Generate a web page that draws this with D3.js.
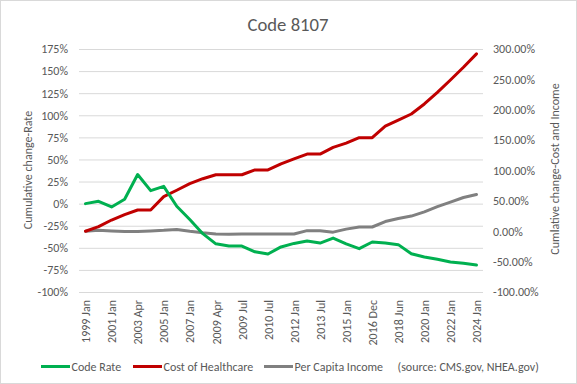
<!DOCTYPE html>
<html>
<head>
<meta charset="utf-8">
<script src="https://cdn.jsdelivr.net/npm/d3@7"></script>
<style>
  html, body { margin: 0; padding: 0; background: #fff; }
  svg { display: block; }
  text { font-family: Carlito, Calibri, "Open Sans", sans-serif; fill: #595959; }
</style>
</head>
<body>
<svg id="chart" width="577" height="384"></svg>
<script>
// ---- data ----
const categories = [
  "1999 Jan","2000 Jan","2001 Jan","2002 Jan","2003 Apr","2004 Jan","2005 Jan","2006 Jan",
  "2007 Jan","2008 Jan","2009 Apr","2009 May","2009 Jul","2010 Jan","2010 Jul","2011 Jan",
  "2012 Jan","2012 Jul","2013 Jul","2014 Jan","2015 Jan","2016 Jan","2016 Dec","2017 Jul",
  "2018 Jun","2019 Jan","2020 Jan","2021 Jan","2022 Jan","2023 Jan","2024 Jan"
];
const codeRate = [0, 2.6, -3.8, 4.9, 33, 14.7, 19.6, -3, -18, -34, -45.5, -48, -48, -54.5, -57,
  -49, -45, -42.3, -44.6, -39, -45.6, -51, -43.4, -44.6, -46.4, -56.8, -60.4, -63, -66, -67.5, -69.5];
const costHealthcare = [0, 7.5, 18.5, 27.5, 35, 35, 57, 67.5, 78.5, 86.5, 93, 93, 93, 101, 101,
  111, 119, 127, 127, 138, 145, 154, 154, 173, 183, 193, 209.5, 228.5, 249, 270, 292];
const perCapitaIncome = [0, 1.5, 0.5, -0.5, -0.5, 0.5, 1.5, 3, 0, -2.5, -4.5, -5, -4.5, -4.5, -4.5,
  -4.5, -4.5, 1, 1, -1.5, 3.5, 7, 7, 16, 21, 25, 32, 40.5, 48, 55.5, 60.5];
const leftTicks = [-100, -75, -50, -25, 0, 25, 50, 75, 100, 125, 150, 175];
const rightTicks = [-100, -50, 0, 50, 100, 150, 200, 250, 300];
const seriesNames = ["Code Rate", "Cost of Healthcare", "Per Capita Income"];
const sourceNote = "(source: CMS.gov, NHEA.gov)";

// ---- layout ----
const svg = d3.select("#chart");
const W = 577, H = 384;
const plot = { left: 79, right: 483, top: 49, bottom: 292 };
const colors = { green: "#00B050", red: "#C00000", grey: "#808080" };
const FONT = "Carlito, Calibri, 'Open Sans', sans-serif";

svg.append("rect").attr("x", 0.5).attr("y", 0.5).attr("width", W - 1).attr("height", H - 1)
  .attr("fill", "#fff").attr("stroke", "#D9D9D9");

const x = d3.scalePoint().domain(categories).range([plot.left, plot.right]).padding(0.5);
const yL = d3.scaleLinear().domain([-100, 175]).range([plot.bottom, plot.top]);
const yR = d3.scaleLinear().domain([-100, 300]).range([plot.bottom, plot.top]);

// gridlines
svg.append("g")
  .attr("transform", `translate(${plot.left},0)`)
  .call(d3.axisLeft(yL).tickValues(leftTicks).tickSize(-(plot.right - plot.left)).tickFormat(""))
  .call(g => g.select(".domain").remove())
  .call(g => g.selectAll("line").attr("stroke", "#D9D9D9").attr("stroke-width", 1));

// left axis labels
svg.append("g")
  .attr("transform", `translate(${plot.left - 11},0)`)
  .call(d3.axisLeft(yL).tickValues(leftTicks).tickSize(0).tickPadding(0).tickFormat(d => d + "%"))
  .call(g => g.select(".domain").remove())
  .call(g => g.selectAll("text").attr("font-size", 12).attr("fill", "#595959").style("font-family", FONT));

// right axis labels
svg.append("g")
  .attr("transform", `translate(${plot.right + 10},0)`)
  .call(d3.axisRight(yR).tickValues(rightTicks).tickSize(0).tickPadding(0).tickFormat(d => d.toFixed(2) + "%"))
  .call(g => g.select(".domain").remove())
  .call(g => g.selectAll("text").attr("font-size", 12).attr("fill", "#595959").style("font-family", FONT));

// x axis labels (every second category)
const xAxis = d3.axisBottom(x)
  .tickValues(categories.filter((d, i) => i % 2 === 0))
  .tickSize(0).tickPadding(0);
svg.append("g")
  .attr("transform", `translate(0,${plot.bottom})`)
  .call(xAxis)
  .call(g => g.select(".domain").remove())
  .call(g => g.selectAll("text")
    .attr("font-size", 12).attr("fill", "#595959").style("font-family", FONT)
    .attr("text-anchor", "end")
    .attr("transform", "translate(0,8) rotate(-90)")
    .attr("x", 0).attr("y", 0).attr("dy", "0.35em"));

// lines
const lineL = d3.line().x((d, i) => x(categories[i])).y(d => yL(d));
const lineR = d3.line().x((d, i) => x(categories[i])).y(d => yR(d));
const lineStyle = sel => sel.attr("fill", "none").attr("stroke-width", 3)
  .attr("stroke-linejoin", "round").attr("stroke-linecap", "round");

svg.append("path").datum(perCapitaIncome).attr("d", lineR).call(lineStyle).attr("stroke", colors.grey);
svg.append("path").datum(costHealthcare).attr("d", lineR).call(lineStyle).attr("stroke", colors.red);
svg.append("path").datum(codeRate).attr("d", lineL).call(lineStyle).attr("stroke", colors.green);

// title
svg.append("text").attr("x", 288).attr("y", 31).attr("text-anchor", "middle")
  .attr("font-size", 18.7).text("Code 8107");

// axis titles
svg.append("text").attr("transform", `translate(28,170) rotate(-90)`)
  .attr("text-anchor", "middle").attr("dy", "0.35em").attr("font-size", 12).text("Cumulative change-Rate");
svg.append("text").attr("transform", `translate(555,169) rotate(-90)`)
  .attr("text-anchor", "middle").attr("dy", "0.35em").attr("font-size", 12).text("Cumlative change-Cost and Income");

// legend
const legendY = 366.5;
const legendItems = [
  { name: seriesNames[0], color: colors.green, x: 41 },
  { name: seriesNames[1], color: colors.red, x: 133 },
  { name: seriesNames[2], color: colors.grey, x: 264 }
];
const lg = svg.append("g");
legendItems.forEach(it => {
  lg.append("line").attr("x1", it.x).attr("x2", it.x + 29).attr("y1", legendY).attr("y2", legendY)
    .attr("stroke", it.color).attr("stroke-width", 3);
  lg.append("text").attr("x", it.x + 30.5).attr("y", legendY).attr("dy", "0.35em")
    .attr("font-size", 12).text(it.name);
});
lg.append("text").attr("x", 397.5).attr("y", legendY).attr("dy", "0.35em")
  .attr("font-size", 12).text(sourceNote);
</script>
</body>
</html>
